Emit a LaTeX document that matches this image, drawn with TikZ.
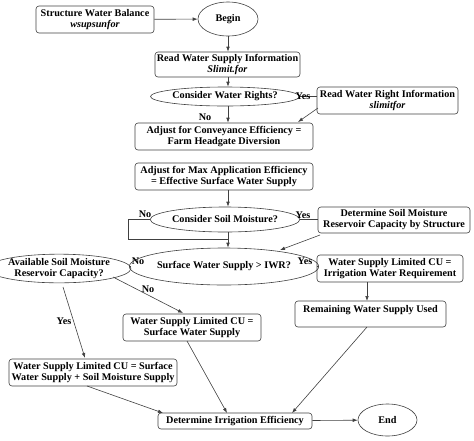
\documentclass[tikz,border=0pt]{standalone}
\usepackage{fontspec}
\setmainfont{Liberation Serif}
\usetikzlibrary{shapes.geometric,arrows.meta}
\begin{document}
\begin{tikzpicture}[x=1pt,y=-1pt,
  every node/.style={font=\bfseries\fontsize{10.2}{11}\selectfont, inner sep=0pt, align=center, text=black},
  box/.style={draw=black!75, line width=0.6pt, rounded corners=3pt, rectangle},
  oval/.style={draw=black!75, line width=0.6pt, ellipse},
  conn/.style={draw=black!75, line width=0.6pt},
  arr/.style={conn, -{Latex[length=5pt,width=3.6pt]}},
  lbl/.style={font=\bfseries\fontsize{10.2}{11}\selectfont}
]
\useasboundingbox (0,0) rectangle (474,440);
% nodes
\node[box, minimum width=118pt, minimum height=27pt] (swb) at (95,19.5) {Structure Water Balance\\\textit{wsupsunfor}};
\node[oval, minimum width=60pt, minimum height=34pt] (begin) at (228,19) {Begin};
\node[box, minimum width=145pt, minimum height=25pt] (rwsi) at (227.5,64.5) {Read Water Supply Information\\\textit{Slimit.for}};
\node[oval, minimum width=124pt, minimum height=19pt] (cwr) at (225,96.5) {Consider Water Rights?};
\node[box, minimum width=141pt, minimum height=27pt] (rwri) at (387.5,100.5) {Read Water Right Information\\\textit{slimitfor}};
\node[box, minimum width=178pt, minimum height=27pt] (ace) at (224,136.5) {Adjust for Conveyance Efficiency =\\Farm Headgate Diversion};
\node[box, minimum width=178pt, minimum height=27pt] (amae) at (224,176.5) {Adjust for Max Application Efficiency\\= Effective Surface Water Supply};
\node[oval, minimum width=126pt, minimum height=25pt] (csm) at (225,219.5) {Consider Soil Moisture?};
\node[box, minimum width=152pt, minimum height=26pt] (dsm) at (394,220) {Determine Soil Moisture\\Reservoir Capacity by Structure};
\node[oval, minimum width=142pt, minimum height=37pt] (sws) at (224,266.5) {Surface Water Supply > IWR?};
\node[box, minimum width=146pt, minimum height=27pt] (wsliwr) at (390,268.5) {Water Supply Limited CU =\\Irrigation Water Requirement};
\node[box, minimum width=151pt, minimum height=26pt] (rwsu) at (370.5,314) {};
\node[lbl] (rwsut) at (370.5,310) {Remaining Water Supply Used};
\node[oval, minimum width=118pt, minimum height=28pt] (asm) at (59,268.5) {Available Soil Moisture\\Reservoir Capacity?};
\node[box, minimum width=138pt, minimum height=27pt] (wslsws) at (192,327.5) {Water Supply Limited CU =\\Surface Water Supply};
\node[box, minimum width=168pt, minimum height=27pt] (wslsm) at (93,372.5) {Water Supply Limited CU = Surface\\Water Supply + Soil Moisture Supply};
\node[box, minimum width=154pt, minimum height=16pt] (die) at (235,421) {Determine Irrigation Efficiency};
\node[oval, minimum width=59pt, minimum height=32pt] (end) at (387.5,420) {End};
% connectors
\draw[arr] (swb) -- (begin);
\draw[arr] (begin) -- (begin |- rwsi.north);
\draw[arr] (rwsi.south -| begin) -- (begin |- cwr.north);
\draw[conn] (cwr.east) -- (rwri.west |- cwr.east);
\node[lbl] (yeslbl1) at (303,96) {Yes};
\coordinate (rwriout) at (318,108);
\coordinate (acein) at (298,122);
\draw[arr] (rwriout) -- (acein);
\draw[arr] (cwr.south -| begin) -- (begin |- ace.north);
\node[lbl] (nolbl1) at (205,117.5) {No};
\draw[arr] (amae.south -| begin) -- (begin |- csm.north);
\coordinate (nocorner1) at (128,219.5);
\coordinate (nocorner2) at (128,239);
\coordinate (nojoin) at (228,239);
\draw[conn] (csm.west) -- (nocorner1) -- (nocorner2) -- (nojoin);
\node[lbl] (nolbl2) at (145,214) {No};
\draw[arr] (csm.south -| begin) -- (begin |- sws.north);
\draw[conn] (csm.east) -- (dsm.west |- csm.east);
\node[lbl] (yeslbl2) at (303,215) {Yes};
\coordinate (dsmout) at (320,235);
\coordinate (swsin) at (280,250);
\draw[arr] (dsmout) -- (swsin);
\draw[conn] (sws.east) -- (wsliwr.west |- sws.east);
\node[lbl] (yeslbl3) at (305,261) {Yes};
\coordinate (iwrout) at (367,282);
\coordinate (rwsuin) at (367,301);
\draw[arr] (iwrout) -- (rwsuin);
\draw[conn] (sws.west) -- (asm.east |- sws.west);
\node[lbl] (nolbl3) at (138,261) {No};
\coordinate (asmout) at (113,277);
\coordinate (wslswsin) at (183,313);
\draw[arr] (asmout) -- (wslswsin);
\node[lbl] (nolbl4) at (148,289) {No};
\coordinate (asmbot) at (63,287);
\coordinate (wslsmin) at (85,358);
\draw[arr] (asmbot) -- (wslsmin);
\node[lbl] (yeslbl4) at (64,321) {Yes};
\coordinate (wslswsout) at (187,341);
\coordinate (diein1) at (227,413);
\draw[arr] (wslswsout) -- (diein1);
\coordinate (wslsmout) at (87,386);
\coordinate (diein2) at (163,413);
\draw[arr] (wslsmout) -- (diein2);
\coordinate (rwsuout) at (367,327);
\coordinate (diein3) at (292,413);
\draw[arr] (rwsuout) -- (diein3);
\draw[arr] (die) -- (end);
\end{tikzpicture}
\end{document}
